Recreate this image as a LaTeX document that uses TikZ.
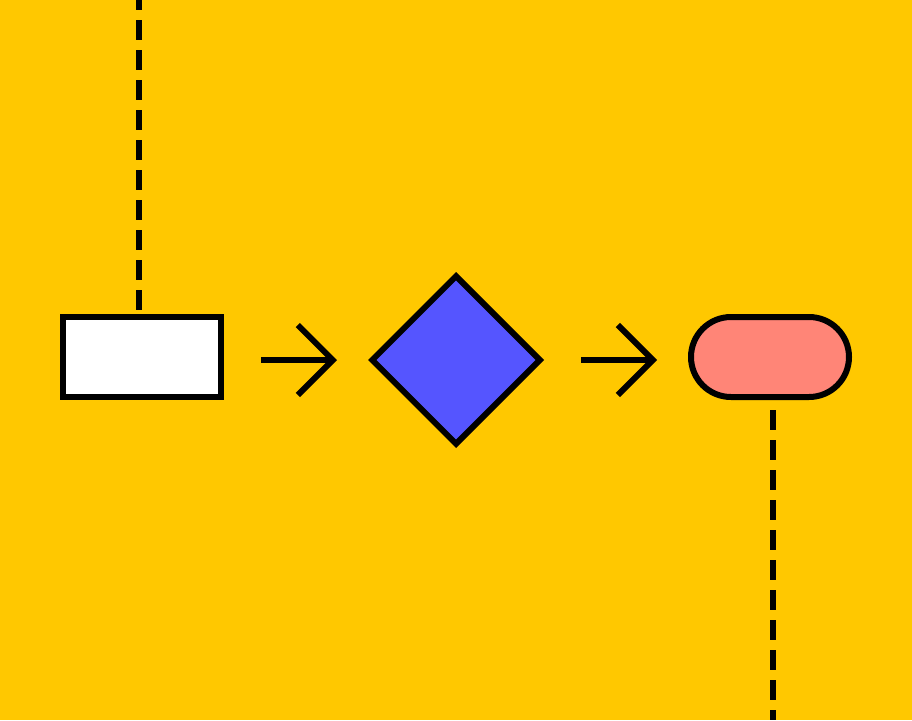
\documentclass[tikz,border=0pt]{standalone}
\usetikzlibrary{shapes.geometric,arrows.meta}
\definecolor{bgyellow}{HTML}{FFC800}
\definecolor{decblue}{HTML}{5555FF}
\definecolor{termsalmon}{HTML}{FF8577}
\begin{document}
\begin{tikzpicture}
    [
    x=1pt,y=-1pt,
    every node/.style={draw=black,line width=6pt,inner sep=0pt},
    process/.style={rectangle,fill=white,minimum width=158pt,minimum height=80pt},
    decision/.style={diamond,aspect=1,fill=decblue,minimum width=170pt,minimum height=170pt},
    terminal/.style={rectangle,rounded corners=40pt,fill=termsalmon,minimum width=158pt,minimum height=80pt},
    flow/.style={line width=6pt,-{Straight Barb[length=35pt,width=70pt,line width=6pt]},shorten <=37pt,shorten >=31pt},
    link/.style={line width=6pt,dash pattern=on 20pt off 10pt},
    ]
    \fill[bgyellow] (0,0) rectangle (912,720);
    \useasboundingbox (0,0) rectangle (912,720);
    \node[process] (box) at (142,357) {};
    \node[decision] (dec) at (456,360) {};
    \node[terminal] (term) at (770,357) {};
    \coordinate (top) at (139,0);
    \coordinate (bottom) at (773,720);
    \draw[link,dash phase=10pt] (top) -- (top |- box.north);
    \draw[link,dash phase=20pt] (bottom |- term.south) -- (bottom);
    \draw[flow] (box.east |- dec.west) -- (dec.west);
    \draw[flow] (dec.east) -- (term.west |- dec.east);
  \end{tikzpicture}
\end{document}
